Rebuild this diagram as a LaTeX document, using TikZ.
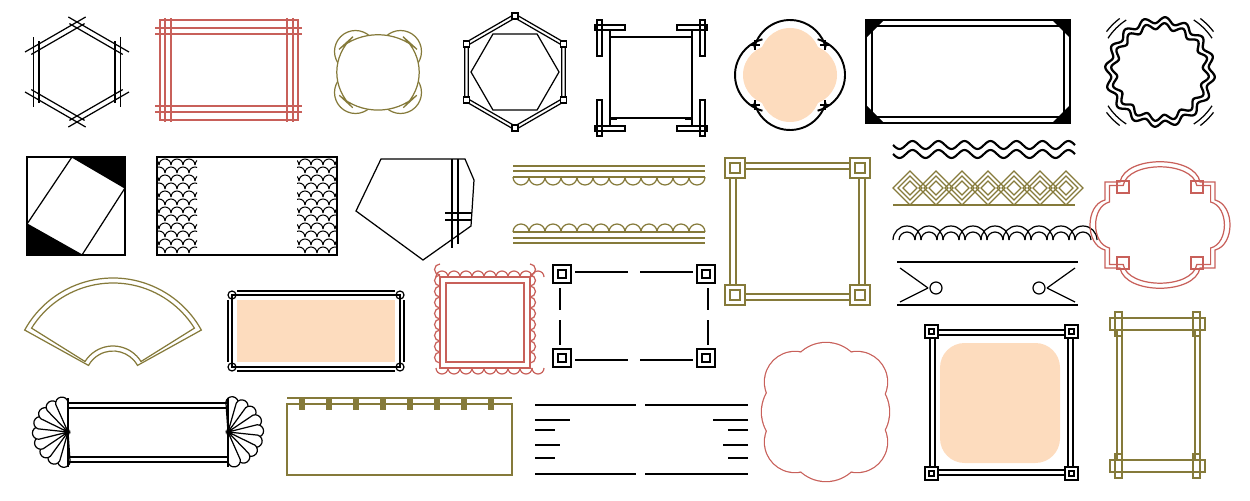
\documentclass[tikz,border=0pt]{standalone}
\usetikzlibrary{calc}
\definecolor{rd}{HTML}{C8605A}
\definecolor{ol}{HTML}{857A3A}
\definecolor{pe}{HTML}{FDDCBE}
\begin{document}
\begin{tikzpicture}[x=0.02cm,y=-0.02cm,line width=0.7pt,line join=miter]
\useasboundingbox (0,0) rectangle (1250,500);
% 1 hexagon
\foreach \r in {50,44}{\foreach \k in {0,...,5}{
 \coordinate (A) at ($(77,72)+({60*\k+30}:\r)$);
 \coordinate (B) at ($(77,72)+({60*\k+90}:\r)$);
 \draw ($(A)!-0.2!(B)$) -- ($(B)!-0.2!(A)$);}}
% 2 red rect
\begin{scope}[rd]
\draw (155,28)--(302,28) (155,34)--(302,34) (155,106)--(302,106) (155,112)--(302,112);
\draw (165,18)--(165,122) (171,18)--(171,122) (287,18)--(287,122) (293,18)--(293,122);
\draw (160,20) rectangle (298,120);
\end{scope}
% 3 olive rounded diamond with bumps
\begin{scope}[ol]
\foreach \mx/\my in {400.5/51.5,400.5/92.5,355.5/51.5,355.5/92.5}{\draw (\mx,\my) circle (21);}
\fill[white,rounded corners=30] (378,14)--(442,72)--(378,131)--(314,72)--cycle;
\draw[rounded corners=30] (378,14)--(442,72)--(378,131)--(314,72)--cycle;
\end{scope}
% 4 hexagon
\foreach \r in {58,54}{\draw (515,72)+(30:\r) \foreach \a in {90,150,...,330}{--+(\a:\r)} --cycle;}
\draw (515,72)+(0:44) \foreach \a in {60,120,...,300}{--+(\a:44)} --cycle;
\foreach \a in {30,90,...,330}{\draw[fill=white] ($(515,72)+(\a:56)$) ++(-3,-3) rectangle ++(6,6);}
% 5 bracket frame
\draw (610,37) rectangle (692,118);
\foreach \sx/\sy in {1/1,-1/1,1/-1,-1/-1}{
 \begin{scope}[shift={(651,78)},xscale=\sx,yscale=\sy]
 \draw (-56,-53) rectangle (-26,-48);
 \draw (-54,-58) rectangle (-49,-22);
 \draw (-41,-48)--(-41,-41)--(-34,-41);
 \end{scope}}
% 6 quatrefoil
\fill[pe] (790,58) circle (30) (790,92) circle (30) (773,75) circle (30) (807,75) circle (30);
\draw[line width=1.1pt] ($(790,57)+(195:37)$) arc(195:345:37);
\draw[line width=1.1pt] ($(790,93)+(15:37)$) arc(15:165:37);
\draw[line width=1.1pt] ($(772,75)+(105:37)$) arc(105:255:37);
\draw[line width=1.1pt] ($(808,75)+(-75:37)$) arc(-75:75:37);
\foreach \x/\y in {755/45,825/45,755/105,825/105}{\draw[line width=1.1pt] (\x-5,\y)--(\x+5,\y) (\x,\y-5)--(\x,\y+5);}
% 7 rect with triangles
\draw (866,20) rectangle (1070,123) (872,26) rectangle (1064,117);
\fill (866,20)--(884,20)--(866,38)--cycle (1070,20)--(1052,20)--(1070,38)--cycle
 (866,123)--(884,123)--(866,105)--cycle (1070,123)--(1052,123)--(1070,105)--cycle;
% 8 wavy circle
\foreach \r in {52,46}{\draw[line width=1.3pt] plot[domain=0:360,samples=240,smooth] ({1160+(\r+3*sin(16*\x))*cos(\x)},{72+(\r+3*sin(16*\x))*sin(\x)});}
\foreach \a in {45,135,225,315}{\draw ($(1160,72)+(\a-12:62)$) arc(\a-12:\a+12:62); \draw ($(1160,72)+(\a-8:67)$) arc(\a-8:\a+8:67);}
% 9 square
\draw (27,157) rectangle (125,255);
\draw (72,157)--(125,188)--(82,255)--(27,224)--cycle;
\fill (72,157)--(125,157)--(125,188)--cycle (82,255)--(27,255)--(27,224)--cycle;
% 10 scales rect
\draw (157,157) rectangle (337,255);
\foreach \xa/\xb in {157/197,297/337}{
 \begin{scope}
 \clip (\xa,157) rectangle (\xb,255);
 \foreach \j in {0,...,12}{\foreach \i in {0,...,4}{
  \pgfmathsetmacro\xx{\xa+\i*12+mod(\j,2)*6-4}
  \draw[line width=0.6pt] (\xx-6,{165+\j*8}) arc(180:360:6);}}
 \end{scope}}
% 11 pentagon
\draw (381,159)--(465,159)--(474,180)--(471,226)--(423,260)--(356,211)--cycle;
\draw (452,159)--(452,248) (458,159)--(458,244) (445,213)--(472,213) (445,220)--(472,220);
% 12 olive borders
\begin{scope}[ol]
\draw (513,166)--(705,166) (513,171)--(705,171) (513,177)--(705,177);
\foreach \i in {0,...,11}{\draw (513+\i*16,177) arc(180:0:8);}
\draw (513,232)--(705,232) (513,238)--(705,238) (513,243)--(705,243);
\foreach \i in {0,...,11}{\draw (513+\i*16,232) arc(180:360:8);}
% 13 olive square
\draw (730,163) rectangle (865,300) (736,169) rectangle (859,294);
\foreach \x/\y in {725/158,850/158,725/285,850/285}{\draw[fill=white] (\x,\y) rectangle ++(20,20); \draw (\x+5,\y+5) rectangle ++(10,10);}
\end{scope}
% 14 borders
\foreach \y in {145,154}{\draw[line width=1.2pt] plot[domain=0:182,samples=120,smooth] ({893+\x},{\y+4*sin(\x*13.85)});}
\begin{scope}[ol]
\foreach \i in {0,...,6}{\foreach \s in {17,12,7}{\draw (910+\i*26,188)+(0,-\s)--+(\s,0)--+(0,\s)--+(-\s,0)--cycle;}}
\draw (893,205)--(1075,205);
\end{scope}
\foreach \i in {0,...,8}{\draw (893+\i*22,240) arc(180:360:14); \draw (899+\i*22,240) arc(180:360:8);}
\draw (897,262)--(1078,262) (897,305)--(1078,305);
\draw (900,268)--(928,288) (900,302)--(928,288) (936,288) circle (6);
\draw (1075,268)--(1047,288) (1075,302)--(1047,288) (1039,288) circle (6);
% 15 red cloud
\begin{scope}[rd]
\foreach \s in {1,0.92}{
\draw[shift={(1160,225)},scale=\s] (-40,-43) .. controls (-35,-70) and (35,-70) .. (40,-43) -- (55,-43) -- (55,-25)
 .. controls (75,-20) and (75,20) .. (55,25) -- (55,43) -- (40,43)
 .. controls (35,70) and (-35,70) .. (-40,43) -- (-55,43) -- (-55,25)
 .. controls (-75,20) and (-75,-20) .. (-55,-25) -- (-55,-43) -- cycle;}
\foreach \x/\y in {1117/181,1191/181,1117/257,1191/257}{\draw (\x,\y) rectangle ++(12,12);}
\end{scope}
% 16 fan
\begin{scope}[ol]
\draw ($(113,379)+(-151:101)$) arc(-151:-29:101) -- ($(113,379)+(-29:28)$) arc(-29:-151:28) -- cycle;
\draw ($(113,379)+(-148:96)$) arc(-148:-32:96) -- ($(113,379)+(-32:33)$) arc(-32:-148:33) -- cycle;
\end{scope}
% 17 frame peach
\fill[pe] (237,300) rectangle (395,362);
\draw (232,295) rectangle (400,367) (228,300)--(228,362) (404,300)--(404,362) (237,291)--(395,291) (237,371)--(395,371);
\foreach \x/\y in {232/295,400/295,232/367,400/367}{\draw (\x,\y) circle (4);}
% 18 red scallop square
\begin{scope}[rd]
\foreach \i in {0,...,8}{
 \draw (436+\i*12,277) arc(180:360:6); \draw (436+\i*12,368) arc(180:0:6);
 \draw (440,275+\i*11) arc(90:270:5.5); \draw (530,275+\i*11) arc(90:-90:5.5);}
\draw[fill=white] (440,277) rectangle (530,368);
\draw (446,283) rectangle (524,362);
\end{scope}
% 19 dashed frame
\foreach \x/\y in {553/265,697/265,553/349,697/349}{\draw (\x,\y) rectangle ++(18,18) (\x+5,\y+5) rectangle ++(8,8);}
\draw (575,272)--(628,272) (640,272)--(693,272) (575,360)--(628,360) (640,360)--(693,360);
\draw (560,288)--(560,310) (560,320)--(560,345) (708,288)--(708,310) (708,320)--(708,345);
% 20 red flower
\begin{scope}[rd]
\foreach \x/\y/\r in {795/382/30,857/382/30,795/442/30,857/442/30,826/380/37,826/444/37,800/412/38,851/412/38}{\draw[line width=1.4pt] (\x,\y) circle (\r);}
\foreach \x/\y/\r in {795/382/30,857/382/30,795/442/30,857/442/30,826/380/37,826/444/37,800/412/38,851/412/38}{\fill[white] (\x,\y) circle (\r);}
\fill[white] (795,385) rectangle (857,440);
\end{scope}
% 21 frame peach
\fill[pe,rounded corners=14] (940,343) rectangle (1060,463);
\draw (930,330) rectangle (1073,475) (935,335) rectangle (1068,470);
\foreach \x/\y in {925/325,1065/325,925/467,1065/467}{\draw[fill=white] (\x,\y) rectangle ++(13,13) (\x+4,\y+4) rectangle ++(5,5);}
% 22 olive tall
\begin{scope}[ol]
\draw (1117,318) rectangle (1200,472) (1122,323) rectangle (1195,467);
\draw[fill=white] (1110,318) rectangle (1205,330) (1110,460) rectangle (1205,472);
\draw (1115,312) rectangle (1122,336) (1193,312) rectangle (1200,336) (1115,454) rectangle (1122,478) (1193,454) rectangle (1200,478);
\end{scope}
% 23 fans frame
\foreach \cx/\d in {68/1,228/-1}{
 \foreach \a in {98,118,...,262}{
  \pgfmathsetmacro\aa{\d==1 ? \a : \a-180}
  \draw[fill=white] (\cx,432) -- ($(\cx,432)+({\aa-12}:30)$) arc({\aa-90}:{\aa+90}:6.24) -- cycle;}}
\draw (68,403)--(228,403) (68,408)--(228,408) (68,457)--(228,457) (68,462)--(228,462) (68,398)--(68,467) (228,398)--(228,467);
% 24 olive banner
\begin{scope}[ol]
\draw (287,404) rectangle (512,475);
\draw (287,398)--(512,398);
\foreach \i in {0,...,7}{\fill (299+\i*27,398) rectangle ++(6,12);}
\end{scope}
% 25 lines
\begin{scope}[line width=1.4pt]
\draw (535,405)--(636,405) (645,405)--(748,405) (535,474)--(636,474) (645,474)--(748,474);
\draw (535,420)--(570,420) (535,430)--(555,430) (535,445)--(560,445) (535,458)--(555,458);
\draw (748,420)--(713,420) (748,430)--(728,430) (748,445)--(723,445) (748,458)--(728,458);
\end{scope}
\end{tikzpicture}
\end{document}
